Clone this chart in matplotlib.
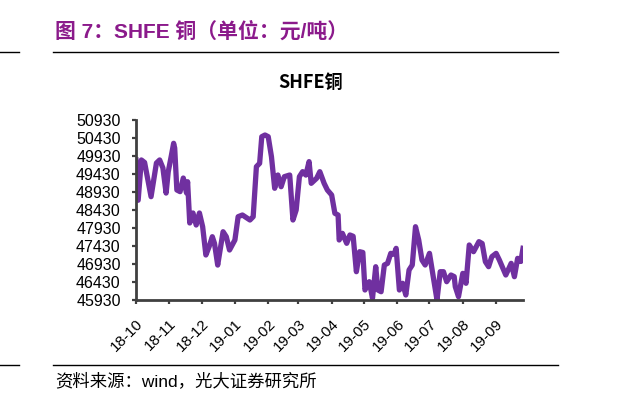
"""
SHFE copper price chart (yuan/ton), Oct 2018 - Sep 2019
"""

import pandas as pd
import matplotlib
matplotlib.use('Agg')
import matplotlib.pyplot as plt
from matplotlib.lines import Line2D

# ============================================================
# DATA
# ============================================================
dates = [
    '2018-10-01', '2018-10-03', '2018-10-06', '2018-10-09', '2018-10-15', '2018-10-20',
    '2018-10-23', '2018-10-26', '2018-10-29', '2018-10-31', '2018-11-03', '2018-11-05',
    '2018-11-06', '2018-11-08', '2018-11-11', '2018-11-14', '2018-11-17', '2018-11-18',
    '2018-11-20', '2018-11-23', '2018-11-26', '2018-11-29', '2018-12-02', '2018-12-05',
    '2018-12-08', '2018-12-11', '2018-12-13', '2018-12-16', '2018-12-18', '2018-12-21',
    '2018-12-24', '2018-12-27', '2019-01-01', '2019-01-04', '2019-01-08', '2019-01-15',
    '2019-01-18', '2019-01-21', '2019-01-24', '2019-01-26', '2019-01-29', '2019-02-01',
    '2019-02-04', '2019-02-07', '2019-02-10', '2019-02-13', '2019-02-16', '2019-02-21',
    '2019-02-24', '2019-02-27', '2019-03-02', '2019-03-05', '2019-03-08', '2019-03-11',
    '2019-03-13', '2019-03-18', '2019-03-21', '2019-03-25', '2019-03-28', '2019-04-01',
    '2019-04-04', '2019-04-07', '2019-04-08', '2019-04-11', '2019-04-15', '2019-04-18',
    '2019-04-21', '2019-04-24', '2019-04-27', '2019-04-30', '2019-05-02', '2019-05-06',
    '2019-05-09', '2019-05-12', '2019-05-14', '2019-05-17', '2019-05-20', '2019-05-23',
    '2019-05-26', '2019-05-29', '2019-05-31', '2019-06-03', '2019-06-06', '2019-06-09',
    '2019-06-12', '2019-06-15', '2019-06-18', '2019-06-21', '2019-06-24', '2019-06-27',
    '2019-07-01', '2019-07-04', '2019-07-07', '2019-07-08', '2019-07-11', '2019-07-14',
    '2019-07-17', '2019-07-21', '2019-07-24', '2019-07-25', '2019-07-28', '2019-08-01',
    '2019-08-04', '2019-08-07', '2019-08-11', '2019-08-16', '2019-08-19', '2019-08-22',
    '2019-08-25', '2019-08-28', '2019-09-01', '2019-09-04', '2019-09-10', '2019-09-15',
    '2019-09-18', '2019-09-21', '2019-09-24', '2019-09-26',
]
prices = [
    49820, 48700, 49820, 49750, 48800, 49735,
    49820, 49600, 48900, 49494, 49958, 50283,
    50150, 48986, 48940, 49318, 48903, 49216,
    48069, 48347, 48013, 48347, 47966, 47180,
    47410, 47688, 47504, 46900, 47272, 47827,
    47688, 47318, 47597, 48244, 48291, 48152,
    48244, 49634, 49727, 50467, 50513, 50467,
    49911, 49033, 49402, 49077, 49356, 49402,
    48152, 48430, 49356, 49495, 49400, 49774,
    49171, 49310, 49495, 49171, 48986, 48847,
    48338, 48291, 47597, 47782, 47504, 47736,
    47700, 46716, 47272, 47250, 46208, 46438,
    45977, 46855, 46208, 46160, 46902, 46948,
    47226, 47200, 47365, 46208, 46394, 46069,
    46763, 46902, 47966, 47597, 47041, 46902,
    47226, 46670, 46115, 45930, 46716, 46716,
    46438, 46624, 46580, 46300, 46022, 46670,
    46394, 47458, 47272, 47551, 47500, 46994,
    46855, 47133, 47226, 47041, 46624, 46948,
    46577, 47087, 47000, 47365,
]

y_ticks = [45930, 46430, 46930, 47430, 47930, 48430, 48930, 49430, 49930, 50430, 50930]
month_ticks = ['2018-10-01', '2018-11-01', '2018-12-01', '2019-01-01', '2019-02-01', '2019-03-01',
               '2019-04-01', '2019-05-01', '2019-06-01', '2019-07-01', '2019-08-01', '2019-09-01']

header_text = '图 7：SHFE 铜（单位：元/吨）'
chart_title = 'SHFE铜'
source_text = '资料来源：wind，光大证券研究所'

LINE_COLOR = '#7030A0'
HEADER_COLOR = '#8B1A8B'
AXIS_COLOR = '#404040'
CJK = ['Noto Sans CJK SC', 'DejaVu Sans']
LATIN_CJK = ['Liberation Sans', 'Noto Sans CJK SC']

df = pd.DataFrame({'date': pd.to_datetime(dates), 'price': prices})

fig = plt.figure(figsize=(6.32, 4.09), dpi=100)
ax = fig.add_axes([136 / 632, 1 - 300 / 409, (523 - 136) / 632, 180 / 409])

ax.plot(df['date'], df['price'], color=LINE_COLOR, linewidth=3.8, solid_joinstyle='round')

ax.set_ylim(45930, 50930)
ax.set_xlim(df['date'].iloc[0], df['date'].iloc[-1])
ax.set_yticks(y_ticks)
ax.set_yticklabels([str(v) for v in y_ticks], fontsize=11.5, family='Liberation Sans')
tick_dates = pd.to_datetime(month_ticks)
ax.set_xticks(tick_dates)
ax.set_xticklabels([d.strftime('%y-%m') for d in tick_dates], rotation=45,
                   ha='right', va='top', rotation_mode='anchor',
                   fontsize=11, family='Liberation Sans')

for side in ['top', 'right']:
    ax.spines[side].set_visible(False)
for side in ['left', 'bottom']:
    ax.spines[side].set_color(AXIS_COLOR)
    ax.spines[side].set_linewidth(2.0)
ax.tick_params(axis='both', direction='out', length=3, width=1.6, color=AXIS_COLOR)
ax.tick_params(axis='y', pad=8)
ax.tick_params(axis='x', pad=9)

# chart title
fig.text(311 / 632, 1 - 83 / 409, chart_title, ha='center', va='center',
         fontsize=13, fontweight='bold', family=CJK)

# header and footer
fig.text(55 / 632, 1 - 32 / 409, header_text, ha='left', va='center',
         fontsize=15, fontweight='bold', color=HEADER_COLOR, family=LATIN_CJK)
fig.text(55 / 632, 1 - 381 / 409, source_text, ha='left', va='center',
         fontsize=12.5, color='black', family=LATIN_CJK)

for y in [52, 365]:
    yf = 1 - y / 409
    fig.add_artist(Line2D([0, 19 / 632], [yf, yf], color='black', linewidth=1.0))
    fig.add_artist(Line2D([53 / 632, 558 / 632], [yf, yf], color='black', linewidth=1.0))

fig.savefig('out.png', dpi=100)
plt.close(fig)
